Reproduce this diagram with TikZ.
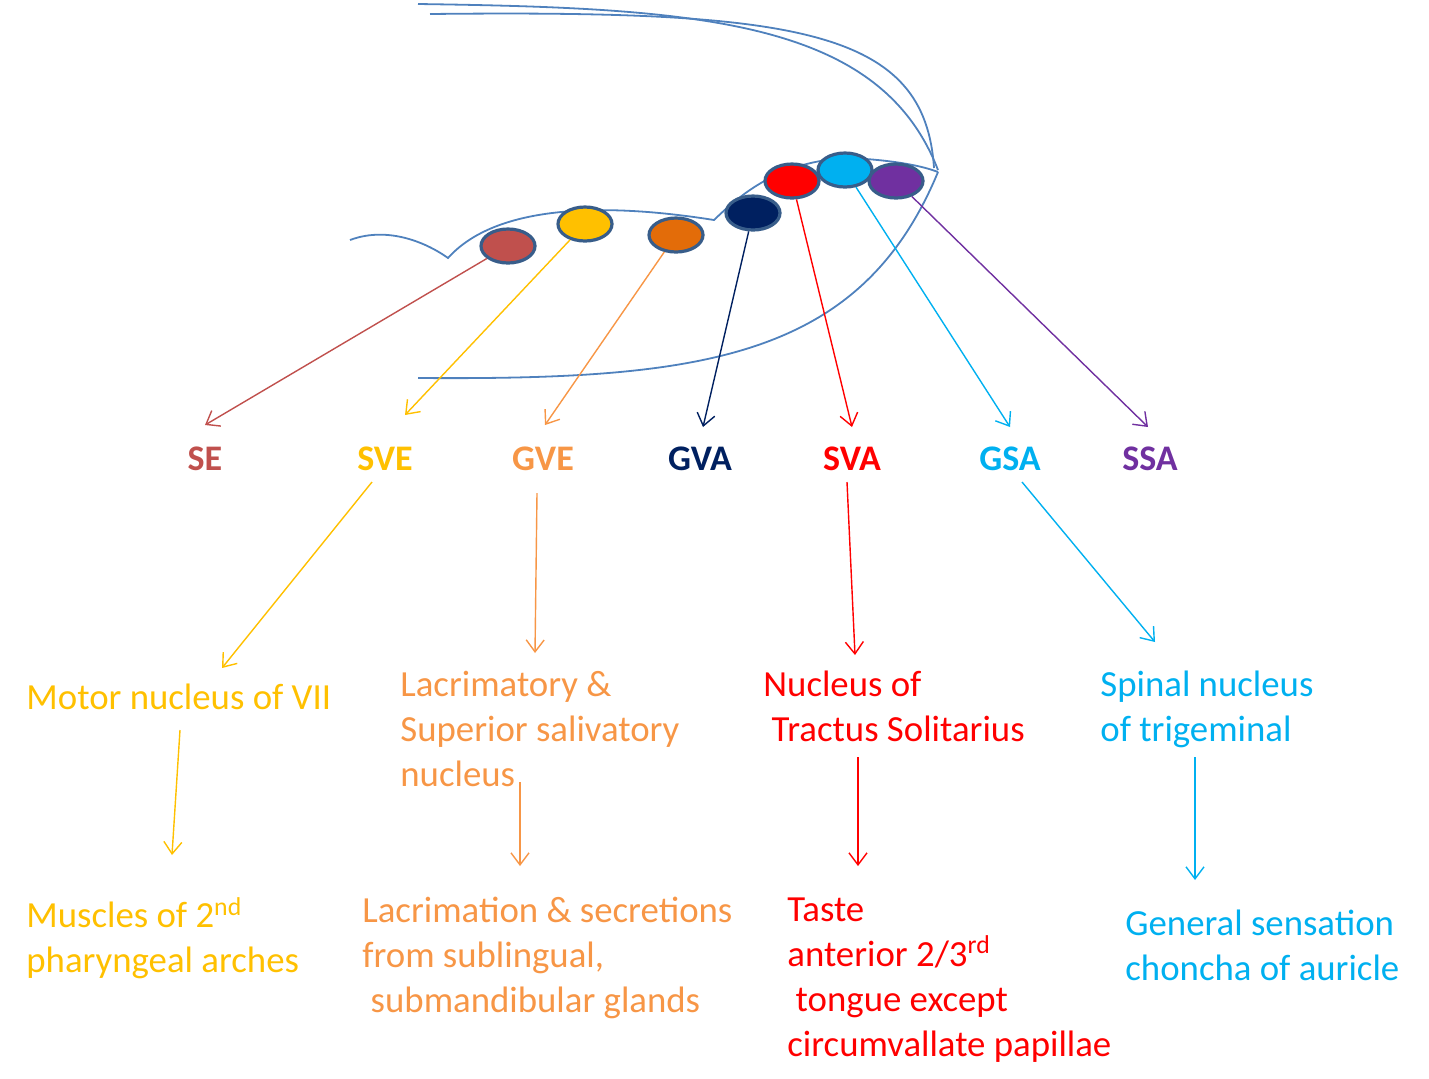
\documentclass[tikz,border=0pt]{standalone}
\usepackage{fontspec}
\usetikzlibrary{shapes.geometric,arrows.meta}
\setmainfont{Carlito}
\begin{document}
\begin{tikzpicture}[x=0.5pt,y=-0.5pt,
 ov/.style={ellipse,draw=ob,line width=1.6pt,minimum width=27pt,minimum height=17pt,inner sep=0},
 lab/.style={font=\fontsize{18}{20}\selectfont\bfseries},
 txt/.style={font=\fontsize{18.4}{22.5}\selectfont,align=left,anchor=north west,inner sep=0},
 ar/.style={-{Straight Barb[length=6pt,width=9pt]},line width=0.7pt}]
\definecolor{ob}{HTML}{385D8A}\definecolor{bl}{HTML}{4F81BD}
\definecolor{cse}{HTML}{C0504D}\definecolor{csve}{HTML}{FFC000}\definecolor{cgve}{HTML}{E36C09}
\definecolor{cgvet}{HTML}{F79646}\definecolor{cgva}{HTML}{002060}\definecolor{cgsa}{HTML}{00B0F0}\definecolor{cssa}{HTML}{7030A0}
\useasboundingbox (0,0) rectangle (1429,1078);
\draw[bl,line width=0.9pt] (350,240) .. controls (390,225) and (430,245) .. (448,258) .. controls (500,200) and (620,205) .. (714,220) .. controls (740,195) and (780,160) .. (850,158) .. controls (890,160) and (920,165) .. (938,172);
\draw[bl,line width=0.9pt] (418,378) .. controls (700,380) and (860,360) .. (938,172);
\draw[bl,line width=0.9pt] (418,4) .. controls (700,8) and (880,20) .. (938,170);
\draw[bl,line width=0.9pt] (430,14) .. controls (800,10) and (925,30) .. (934,168);
\node[ov,fill=cse] (o1) at (508,246) {};
\node[ov,fill=csve] (o2) at (585,224) {};
\node[ov,fill=cgve] (o3) at (676,235) {};
\node[ov,fill=cgva] (o4) at (753,213) {};
\node[ov,fill=red] (o5) at (792,181) {};
\node[ov,fill=cgsa] (o6) at (845,170) {};
\node[ov,fill=cssa] (o7) at (896,181) {};
\node[lab,cse] (l1) at (205,459) {SE};
\node[lab,csve] (l2) at (385,459) {SVE};
\node[lab,cgvet] (l3) at (543,459) {GVE};
\node[lab,cgva] (l4) at (700,459) {GVA};
\node[lab,red] (l5) at (852,459) {SVA};
\node[lab,cgsa] (l6) at (1010,459) {GSA};
\node[lab,cssa] (l7) at (1150,459) {SSA};
\coordinate (e1) at (205,425);\coordinate (e2) at (405,415);\coordinate (e3) at (545,425);
\coordinate (e4) at (703,427);\coordinate (e5) at (852,427);\coordinate (e6) at (1010,427);\coordinate (e7) at (1148,427);
\draw[ar,cse] (o1) -- (e1);
\draw[ar,csve] (o2) -- (e2);
\draw[ar,cgvet] (o3) -- (e3);
\draw[ar,cgva] (o4) -- (e4);
\draw[ar,red] (o5) -- (e5);
\draw[ar,cgsa] (o6) -- (e6);
\draw[ar,cssa] (o7) -- (e7);
\node[txt,csve] (m2) at (26,684) {Motor nucleus of VII};
\node[txt,cgvet] (m3) at (400,671) {Lacrimatory \&\\Superior salivatory\\nucleus};
\node[txt,red] (m5) at (763,671) {Nucleus of\\ \ Tractus Solitarius};
\node[txt,cgsa] (m6) at (1100,671) {Spinal nucleus\\of trigeminal};
\node[txt,csve] (b2) at (26,897) {Muscles of 2\textsuperscript{nd}\\pharyngeal arches};
\node[txt,cgvet] (b3) at (362,897) {Lacrimation \& secretions\\from sublingual,\\ \ submandibular glands};
\node[txt,red] (b5) at (787,897) {Taste\\anterior 2/3\textsuperscript{rd}\\ \ tongue except\\circumvallate papillae};
\node[txt,cgsa] (b6) at (1125,910) {General sensation\\choncha of auricle};
\draw[ar,csve] (372,482) -- (222,668);
\draw[ar,cgvet] (537,493) -- (535,653);
\draw[ar,red] (847,482) -- (855,655);
\draw[ar,cgsa] (1022,482) -- (1155,642);
\draw[ar,csve] (180,730) -- (172,855);
\draw[ar,cgvet] (520,782) -- (520,866);
\draw[ar,red] (858,757) -- (858,866);
\draw[ar,cgsa] (1195,757) -- (1195,880);
\end{tikzpicture}
\end{document}
